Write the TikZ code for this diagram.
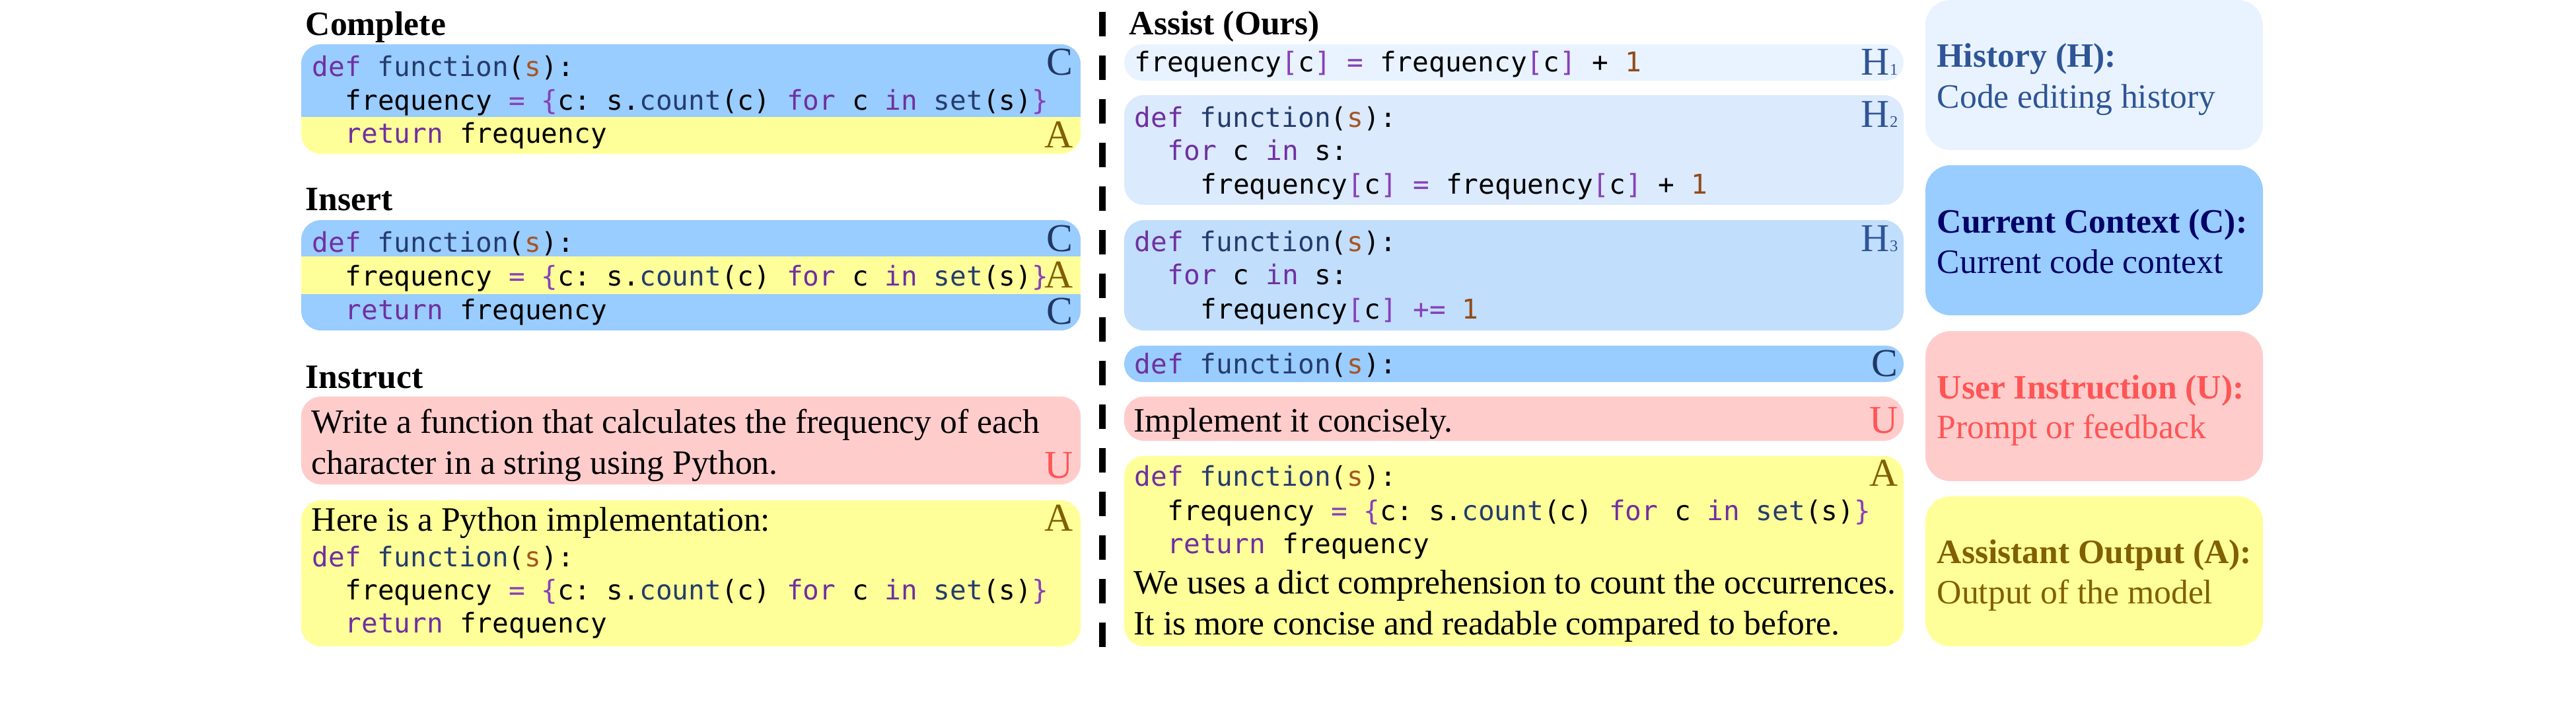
\documentclass[tikz,border=0pt]{standalone}
\usepackage{fontspec}
\setmainfont{Liberation Serif}
\setmonofont{DejaVu Sans Mono}
\usepackage{tikz}

\definecolor{ctxblue}{RGB}{153,204,255}
\definecolor{outyellow}{RGB}{255,255,153}
\definecolor{usrpink}{RGB}{255,204,204}
\definecolor{histone}{RGB}{232,243,255}
\definecolor{histtwo}{RGB}{219,234,252}
\definecolor{histthree}{RGB}{193,222,252}
\definecolor{histtext}{RGB}{47,85,151}
\definecolor{ctxtext}{RGB}{0,0,102}
\definecolor{ctxtag}{RGB}{31,56,100}
\definecolor{usrtext}{RGB}{255,85,85}
\definecolor{outtext}{RGB}{128,96,0}
\definecolor{codekw}{RGB}{112,48,160}
\definecolor{codefn}{RGB}{36,60,108}
\definecolor{codepar}{RGB}{165,85,35}
\definecolor{codeop}{RGB}{136,64,184}
\definecolor{codenum}{RGB}{145,75,25}

\newcommand{\ckw}[1]{\textcolor{codekw}{#1}}
\newcommand{\cfn}[1]{\textcolor{codefn}{#1}}
\newcommand{\cpar}[1]{\textcolor{codepar}{#1}}
\newcommand{\cop}[1]{\textcolor{codeop}{#1}}
\newcommand{\cnum}[1]{\textcolor{codenum}{#1}}
\newcommand{\hlab}[1]{H{\fontsize{7}{8}\selectfont #1}}

\tikzset{
	codeline/.style={anchor=base west, inner sep=0pt, font=\fontsize{11.7}{14}\ttfamily\frenchspacing},
	txtline/.style={anchor=base west, inner sep=0pt, font=\fontsize{14.7}{17}\selectfont},
	heading/.style={anchor=base west, inner sep=0pt, font=\fontsize{14.7}{17}\selectfont\bfseries},
	boxtag/.style={anchor=base east, inner sep=0pt, font=\fontsize{17}{20}\selectfont},
	legendtxt/.style={anchor=base west, inner sep=0pt, font=\fontsize{14.7}{17}\selectfont},
}

\begin{document}
\begin{tikzpicture}
		%%%%% START %%%%%
		\useasboundingbox (0, 0) rectangle (39, -10.96);
		
		%%%%% LEFT: Complete %%%%%
		\node[heading] (tcomplete) at (4.62, -0.53) {Complete};
		\begin{scope}
			\clip[rounded corners=0.3cm] (4.56, -0.67) rectangle (16.36, -2.33);
			\fill[ctxblue] (4.56, -0.67) rectangle (16.36, -1.77);
			\fill[outyellow] (4.56, -1.77) rectangle (16.36, -2.33);
		\end{scope}
		\node[codeline] (cmpa) at (4.72, -1.15) {\ckw{def} \cfn{function}(\cpar{s}):};
		\node[codeline] (cmpb) at (5.22, -1.66) {frequency \cop{=} \cop{\{}c: s.\cfn{count}(c) \ckw{for} c \ckw{in} \cfn{set}(s)\cop{\}}};
		\node[codeline] (cmpc) at (5.22, -2.16) {\ckw{return} frequency};
		\node[boxtag, ctxtag] (cmpC) at (16.25, -1.13) {C};
		\node[boxtag, outtext] (cmpA) at (16.25, -2.23) {A};
		
		%%%%% LEFT: Insert %%%%%
		\node[heading] (tinsert) at (4.62, -3.18) {Insert};
		\begin{scope}
			\clip[rounded corners=0.3cm] (4.56, -3.33) rectangle (16.36, -5.00);
			\fill[ctxblue] (4.56, -3.33) rectangle (16.36, -3.88);
			\fill[outyellow] (4.56, -3.88) rectangle (16.36, -4.45);
			\fill[ctxblue] (4.56, -4.45) rectangle (16.36, -5.00);
		\end{scope}
		\node[codeline] (insa) at (4.72, -3.81) {\ckw{def} \cfn{function}(\cpar{s}):};
		\node[codeline] (insb) at (5.22, -4.32) {frequency \cop{=} \cop{\{}c: s.\cfn{count}(c) \ckw{for} c \ckw{in} \cfn{set}(s)\cop{\}}};
		\node[codeline] (insc) at (5.22, -4.83) {\ckw{return} frequency};
		\node[boxtag, ctxtag] (insC) at (16.25, -3.80) {C};
		\node[boxtag, outtext] (insA) at (16.25, -4.35) {A};
		\node[boxtag, ctxtag] (insCC) at (16.25, -4.90) {C};
		
		%%%%% LEFT: Instruct %%%%%
		\node[heading] (tinstruct) at (4.62, -5.87) {Instruct};
		\fill[usrpink, rounded corners=0.3cm] (4.56, -6.00) rectangle (16.36, -7.33);
		\node[txtline] (insta) at (4.71, -6.55) {Write a function that calculates the frequency of each};
		\node[txtline] (instb) at (4.71, -7.17) {character in a string using Python.};
		\node[boxtag, usrtext] (instU) at (16.25, -7.23) {U};
		\fill[outyellow, rounded corners=0.3cm] (4.56, -7.57) rectangle (16.36, -9.78);
		\node[txtline] (ansa) at (4.71, -8.03) {Here is a Python implementation:};
		\node[codeline] (ansb) at (4.72, -8.57) {\ckw{def} \cfn{function}(\cpar{s}):};
		\node[codeline] (ansc) at (5.22, -9.07) {frequency \cop{=} \cop{\{}c: s.\cfn{count}(c) \ckw{for} c \ckw{in} \cfn{set}(s)\cop{\}}};
		\node[codeline] (ansd) at (5.22, -9.57) {\ckw{return} frequency};
		\node[boxtag, outtext] (ansA) at (16.25, -8.03) {A};
		
		%%%%% SEPARATOR %%%%%
		\draw[line width=0.1cm, dash pattern=on 0.37cm off 0.29cm] (16.69, -0.18) -- (16.69, -9.80);
		
		%%%%% MIDDLE: Assist (Ours) %%%%%
		\node[heading] (tassist) at (17.09, -0.52) {Assist (Ours)};
		
		\fill[histone, rounded corners=0.27cm] (17.02, -0.67) rectangle (28.82, -1.22);
		\node[codeline] (hista) at (17.17, -1.08) {frequency\cop{[}c\cop{]} \cop{=} frequency\cop{[}c\cop{]} + \cnum{1}};
		\node[boxtag, histtext] (histA) at (28.74, -1.13) {\hlab{1}};
		
		\fill[histtwo, rounded corners=0.3cm] (17.02, -1.44) rectangle (28.82, -3.10);
		\node[codeline] (histba) at (17.17, -1.92) {\ckw{def} \cfn{function}(\cpar{s}):};
		\node[codeline] (histbb) at (17.67, -2.42) {\ckw{for} c \ckw{in} s:};
		\node[codeline] (histbc) at (18.17, -2.93) {frequency\cop{[}c\cop{]} \cop{=} frequency\cop{[}c\cop{]} + \cnum{1}};
		\node[boxtag, histtext] (histB) at (28.74, -1.92) {\hlab{2}};
		
		\fill[histthree, rounded corners=0.3cm] (17.02, -3.33) rectangle (28.82, -5.00);
		\node[codeline] (histca) at (17.17, -3.80) {\ckw{def} \cfn{function}(\cpar{s}):};
		\node[codeline] (histcb) at (17.67, -4.30) {\ckw{for} c \ckw{in} s:};
		\node[codeline] (histcc) at (18.17, -4.82) {frequency\cop{[}c\cop{]} \cop{+=} \cnum{1}};
		\node[boxtag, histtext] (histC) at (28.74, -3.80) {\hlab{3}};
		
		\fill[ctxblue, rounded corners=0.27cm] (17.02, -5.23) rectangle (28.82, -5.78);
		\node[codeline] (ctxa) at (17.17, -5.65) {\ckw{def} \cfn{function}(\cpar{s}):};
		\node[boxtag, ctxtag] (ctxC) at (28.74, -5.69) {C};
		
		\fill[usrpink, rounded corners=0.3cm] (17.02, -6.00) rectangle (28.82, -6.67);
		\node[txtline] (usra) at (17.16, -6.53) {Implement it concisely.};
		\node[boxtag, usrtext] (usrU) at (28.74, -6.55) {U};
		
		\fill[outyellow, rounded corners=0.3cm] (17.02, -6.90) rectangle (28.82, -9.78);
		\node[codeline] (outa) at (17.17, -7.35) {\ckw{def} \cfn{function}(\cpar{s}):};
		\node[codeline] (outb) at (17.67, -7.87) {frequency \cop{=} \cop{\{}c: s.\cfn{count}(c) \ckw{for} c \ckw{in} \cfn{set}(s)\cop{\}}};
		\node[codeline] (outc) at (17.67, -8.37) {\ckw{return} frequency};
		\node[txtline] (outd) at (17.16, -8.98) {We uses a dict comprehension to count the occurrences.};
		\node[txtline] (oute) at (17.16, -9.60) {It is more concise and readable compared to before.};
		\node[boxtag, outtext] (outA) at (28.74, -7.35) {A};
		
		%%%%% RIGHT: legend %%%%%
		\fill[histone, rounded corners=0.38cm] (29.15, 0) rectangle (34.26, -2.27);
		\node[legendtxt, histtext, font=\fontsize{14.7}{17}\selectfont\bfseries] (lgha) at (29.32, -1.01) {History (H):};
		\node[legendtxt, histtext] (lghb) at (29.32, -1.63) {Code editing history};
		
		\fill[ctxblue, rounded corners=0.38cm] (29.15, -2.50) rectangle (34.26, -4.77);
		\node[legendtxt, ctxtext, font=\fontsize{14.7}{17}\selectfont\bfseries] (lgca) at (29.32, -3.52) {Current Context (C):};
		\node[legendtxt, ctxtext] (lgcb) at (29.32, -4.13) {Current code context};
		
		\fill[usrpink, rounded corners=0.38cm] (29.15, -5.01) rectangle (34.26, -7.28);
		\node[legendtxt, usrtext, font=\fontsize{14.7}{17}\selectfont\bfseries] (lgua) at (29.32, -6.03) {User Instruction (U):};
		\node[legendtxt, usrtext] (lgub) at (29.32, -6.63) {Prompt or feedback};
		
		\fill[outyellow, rounded corners=0.38cm] (29.15, -7.51) rectangle (34.26, -9.78);
		\node[legendtxt, outtext, font=\fontsize{14.7}{17}\selectfont\bfseries] (lgaa) at (29.32, -8.52) {Assistant Output (A):};
		\node[legendtxt, outtext] (lgab) at (29.32, -9.13) {Output of the model};
		
		%%%%% END %%%%%
\end{tikzpicture}
\end{document}
